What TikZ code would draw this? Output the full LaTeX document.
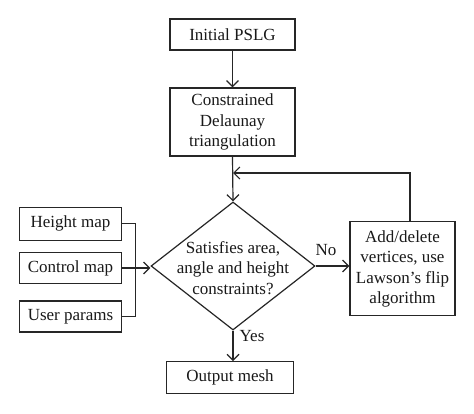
\documentclass[tikz,border=0pt]{standalone}
\usepackage{fontspec}
\setmainfont{Liberation Serif}
\usetikzlibrary{arrows.meta,shapes.geometric}
\begin{document}
\begin{tikzpicture}[x=1pt,y=-1pt,
  txt/.style={font=\fontsize{17}{20.5}\selectfont, text=black!90},
  box/.style={txt, draw=black!85, line width=1.2pt, rectangle, inner sep=0pt, align=center},
  lbl/.style={txt, inner sep=0pt, align=center},
  conn/.style={draw=black!85, line width=1.2pt},
  arr/.style={conn, -{Straight Barb[length=6pt,width=12pt,line width=1.2pt]}}]
\useasboundingbox (0,0) rectangle (474,414);
\fill[white] (0,0) rectangle (474,414);
% boxes
\node[box, minimum width=125pt, minimum height=31pt] (pslg) at (232.5,34.5) {Initial PSLG};
\node[box, minimum width=125pt, minimum height=68pt] (cdt) at (232.5,122) {Constrained\\Delaunay\\triangulation};
\node[diamond, draw=black!85, line width=1.2pt, minimum width=164pt, minimum height=128pt, inner sep=0pt] (dia) at (233,266) {};
\node[lbl] (diat) at (233,268) {Satisfies area,\\angle and height\\constraints?};
\node[box, minimum width=102pt, minimum height=33pt] (hm) at (70.5,223.7) {Height map};
\node[box, minimum width=102pt, minimum height=31pt] (cm) at (70.5,268) {Control map};
\node[box, minimum width=102pt, minimum height=31pt] (up) at (70.5,316.5) {User params};
\node[box, minimum width=105pt, minimum height=94pt] (add) at (402.5,268.7) {Add/delete\\vertices, use\\Lawson’s flip\\algorithm};
\node[box, minimum width=126.6pt, minimum height=31.6pt] (out) at (230,377.5) {Output mesh};
% labels
\node[lbl] (no) at (326,250) {No};
\node[lbl] (yes) at (252,336) {Yes};
% connectors
\coordinate (fbend) at (233,173);
\draw[arr] (pslg.south) -- (cdt.north);
\draw[arr] (cdt.south) -- (dia.north);
\draw[arr] ([xshift=7.5pt]add.north) |- (fbend);
\draw[conn] (hm.east) -- ++(13,0) |- (up.east);
\draw[arr] (cm.east) -- (cm.east -| dia.west);
\draw[arr] (dia.east) -- (dia.east -| add.west);
\draw[arr] (dia.south) -- (dia.south |- out.north);
\end{tikzpicture}
\end{document}
